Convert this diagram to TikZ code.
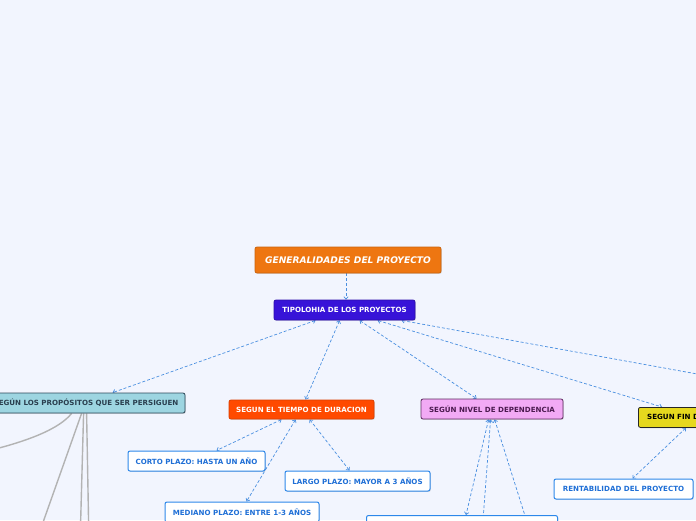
\documentclass[tikz,border=0pt]{standalone}
\usepackage{fontspec}
\setsansfont{DejaVu Sans}
\usetikzlibrary{arrows.meta,calc,shadows}
\definecolor{bgc}{HTML}{F2F5FE}
\definecolor{genc}{HTML}{EE7611}
\definecolor{tipc}{HTML}{3713D8}
\definecolor{tiemc}{HTML}{FF4A00}
\definecolor{nivc}{HTML}{F2AAF5}
\definecolor{nivd}{HTML}{5E2B60}
\definecolor{nivt}{HTML}{4B1A4F}
\definecolor{propc}{HTML}{9DD5E1}
\definecolor{propd}{HTML}{2E4A5A}
\definecolor{propt}{HTML}{2A3F4F}
\definecolor{finc}{HTML}{E6D81E}
\definecolor{wbd}{HTML}{2E88EA}
\definecolor{wbt}{HTML}{1F6FD6}
\definecolor{linkc}{HTML}{4A8FE0}
\definecolor{grayc}{HTML}{B3B3B3}
\pgfdeclarelayer{bgl}
\pgfdeclarelayer{edges}
\pgfsetlayers{bgl,edges,main}
\tikzset{
  box/.style={rounded corners=2pt, line width=0.8pt, inner sep=0pt,
    font=\sffamily\bfseries\fontsize{7.1}{8.5}\selectfont,
    drop shadow={shadow xshift=0.8pt, shadow yshift=-0.9pt, opacity=0.25}},
  wbox/.style={box, fill=white, draw=wbd, text=wbt, line width=1pt},
  link/.style={draw=linkc, line width=0.7pt, dash pattern=on 3pt off 2pt,
    {Straight Barb[length=2.4pt,width=4.4pt]}-{Straight Barb[length=2.4pt,width=4.4pt]}},
  link1/.style={draw=linkc, line width=0.7pt, dash pattern=on 3pt off 2pt,
    -{Straight Barb[length=2.4pt,width=4.4pt]}},
  grayline/.style={draw=grayc, line width=1.4pt}
}
\begin{document}
\begin{tikzpicture}[x=1pt,y=-1pt]
\useasboundingbox (0,0) rectangle (696,520);
\begin{pgfonlayer}{bgl}
\fill[bgc] (0,0) rectangle (696,520);
\end{pgfonlayer}
\clip (0,0) rectangle (696,520);

% nodes
\node[box, fill=genc, draw=genc!85!black, text=white,
      font=\sffamily\bfseries\itshape\fontsize{9.1}{11}\selectfont,
      minimum width=186pt, minimum height=26pt] (gen) at (348,260) {GENERALIDADES DEL PROYECTO};
\node[box, fill=tipc, draw=tipc!80!black, text=white,
      minimum width=141pt, minimum height=20pt] (tip) at (344.5,310) {TIPOLOHIA DE LOS PROYECTOS};
\node[box, fill=propc, draw=propd, text=propt,
      minimum width=198pt, minimum height=20pt] (prop) at (86,403) {SEGÚN LOS PROPÓSITOS QUE SER PERSIGUEN};
\node[box, fill=tiemc, draw=tiemc!85!black, text=white,
      minimum width=145pt, minimum height=19pt] (tiem) at (301.5,409.5) {SEGUN EL TIEMPO DE DURACION};
\node[box, fill=nivc, draw=nivd, text=nivt,
      minimum width=142pt, minimum height=20pt] (niv) at (492,409) {SEGÚN NIVEL DE DEPENDENCIA};
\node[box, fill=finc, draw=black!85, text=black,
      minimum width=150pt, minimum height=20pt, anchor=north west] (fin) at (638,407) {};
\node[font=\sffamily\bfseries\fontsize{7.1}{8.5}\selectfont, anchor=west, inner sep=0pt] (fintxt)
      at ($(fin.west)+(9,0)$) {SEGUN FIN D};
\node[wbox, minimum width=137pt, minimum height=20pt] (corto) at (196.5,461) {CORTO PLAZO: HASTA UN AÑO};
\node[wbox, minimum width=145pt, minimum height=20pt] (largo) at (357.5,481) {LARGO PLAZO: MAYOR A 3 AÑOS};
\node[wbox, minimum width=154pt, minimum height=20pt] (med) at (242,512) {MEDIANO PLAZO: ENTRE 1-3 AÑOS};
\node[wbox, minimum width=139pt, minimum height=20pt] (rent) at (623.5,489) {RENTABILIDAD DEL PROYECTO};
\node[wbox, minimum width=191pt, minimum height=30pt, anchor=north west] (bot) at (366,515) {};

% off-picture ends
\coordinate (offA) at (780,389);
\coordinate (offB) at (480,560);
\coordinate (offC) at (539,560);
\coordinate (offD) at (730,455);
\coordinate (offE) at (-30,455);
\coordinate (offF) at (35,545);
\coordinate (offG) at (80,545);
\coordinate (offH) at (89,545);

\begin{pgfonlayer}{edges}
\draw[link1] ([xshift=-2pt]gen.south) -- ([xshift=1.5pt]tip.north);
\draw[link] ([xshift=42pt]tip.south west) -- ([xshift=126pt]prop.north west);
\draw[link] ([xshift=66pt]tip.south west) -- ([xshift=77pt]tiem.north west);
\draw[link] ([xshift=86pt]tip.south west) -- ([xshift=56pt]niv.north west);
\draw[link] ([xshift=104pt]tip.south west) -- ([xshift=24pt]fin.north west);
\draw[link] ([xshift=128pt]tip.south west) -- (offA);
\draw[link] ([xshift=53pt]tiem.south west) -- ([xshift=89pt]corto.north west);
\draw[link] ([xshift=67pt]tiem.south west) -- ([xshift=82pt]med.north west);
\draw[link] ([xshift=81pt]tiem.south west) -- ([xshift=65pt]largo.north west);
\draw[link] ([xshift=68pt]niv.south west) -- ([xshift=100pt]bot.north west);
\draw[link] ([xshift=70pt]niv.south west) -- (offB);
\draw[link] ([xshift=74pt]niv.south west) -- (offC);
\draw[link] ([xshift=48pt]fin.south west) -- ([xshift=79pt]rent.north west);
\draw[link] ([xshift=58pt]fin.south west) -- (offD);
\draw[grayline] ([xshift=85pt]prop.south west) .. controls (60,428) and (30,442) .. (offE);
\draw[grayline] ([xshift=95pt]prop.south west) -- (offF);
\draw[grayline] ([xshift=97pt]prop.south west) -- (offG);
\draw[grayline] ([xshift=100pt]prop.south west) -- (offH);
\end{pgfonlayer}
\end{tikzpicture}
\end{document}
